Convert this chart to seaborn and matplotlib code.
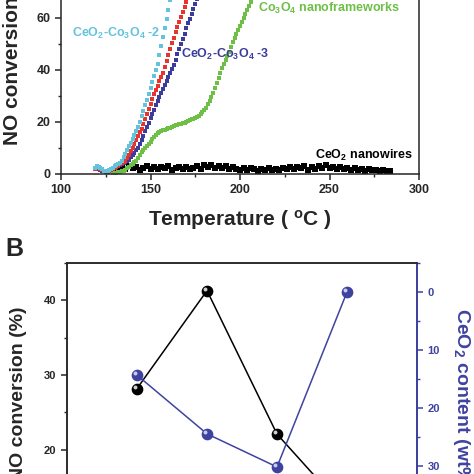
import numpy as np
import pandas as pd
import matplotlib
matplotlib.use("Agg")
import matplotlib.pyplot as plt
import matplotlib.transforms as mtransforms
from matplotlib.ticker import MultipleLocator
import seaborn as sns

# ---- panel A: NO conversion vs temperature ----
t_lb = list(range(119, 164))
conv_lb = [2.4, 3.0, 2.6, 2.2, 1.8, 1.3, 1.0, 1.2, 1.6, 2.0, 2.4, 2.9, 3.4, 3.9, 4.4,
           5.0, 6.4, 7.8, 9.3, 10.7, 12.1, 13.5, 15.0, 16.5, 18.0, 20.1, 22.2, 24.3,
           26.4, 28.5, 30.8, 33.1, 35.4, 37.7, 40.0, 42.5, 45.8, 49.2, 52.6, 56.0,
           59.6, 63.2, 66.8, 70.4, 74.0]

t_red = list(range(119, 173))
conv_red = [2.0, 2.6, 2.2, 1.8, 1.4, 1.1, 0.9, 1.0, 1.3, 1.6, 2.0, 2.4, 2.8, 3.2, 3.7,
            4.2, 4.6, 5.0, 6.2, 7.5, 8.8, 10.0, 11.5, 13.0, 14.5, 16.0, 17.5, 19.3,
            21.2, 23.1, 25.0, 27.0, 28.9, 30.6, 32.3, 34.0, 35.6, 37.3, 39.0, 41.0,
            43.3, 45.6, 47.9, 50.2, 52.5, 54.8, 56.7, 58.6, 60.5, 62.4, 64.3, 66.2,
            68.1, 70.0]

t_navy = list(range(119, 179))
conv_navy = [1.8, 2.4, 2.0, 1.6, 1.2, 1.0, 0.8, 0.9, 1.1, 1.4, 1.8, 2.2, 2.6, 3.0, 3.4,
             3.8, 4.2, 4.6, 4.9, 5.5, 6.4, 7.3, 8.2, 9.1, 10.0, 11.6, 13.2, 14.8, 16.4,
             18.0, 19.7, 21.4, 23.1, 24.8, 26.5, 28.2, 29.7, 31.2, 32.7, 34.2, 35.7,
             37.2, 38.7, 40.2, 42.0, 44.0, 46.0, 48.0, 50.0, 52.0, 54.0, 56.0, 57.9,
             59.8, 61.7, 63.6, 65.5, 67.4, 69.3, 71.2]

t_green = list(range(129, 210))
conv_green = [0.0, 0.2, 0.4, 0.6, 0.8, 1.0, 1.3, 1.7, 2.2, 2.8, 3.4, 4.0, 4.6, 5.1, 6.2,
              7.3, 8.3, 9.1, 9.9, 10.7, 11.5, 12.4, 13.3, 14.2, 15.1, 15.7, 16.1, 16.5,
              16.8, 17.1, 17.4, 17.6, 17.8, 18.1, 18.4, 18.7, 18.9, 19.1, 19.3, 19.5,
              19.8, 20.0, 20.3, 20.6, 21.0, 21.3, 21.7, 22.0, 22.5, 23.1, 23.8, 24.6,
              25.5, 26.8, 28.2, 29.6, 31.0, 33.0, 35.0, 37.0, 39.0, 40.6, 42.2, 43.8,
              45.4, 47.0, 48.8, 50.6, 52.4, 54.0, 55.5, 57.0, 58.5, 60.0, 61.5, 63.0,
              64.6, 66.2, 67.8, 69.4, 71.0]

t_black = list(range(130, 286, 2))
conv_black = [1.0, 1.8, 2.6, 2.0, 3.0, 2.2, 2.8, 1.6, 2.4, 3.0, 2.0, 2.6, 1.8, 2.8,
              2.2, 3.0, 1.6, 2.4, 2.8, 2.0, 2.6, 1.8, 2.4, 3.2, 2.0, 3.4, 2.6, 3.6,
              2.2, 3.0, 2.4, 3.2, 1.8, 2.6, 2.0, 1.4, 2.2, 1.6, 2.4, 1.8, 1.2, 2.0,
              1.6, 2.2, 1.4, 2.0, 1.6, 2.4, 1.8, 2.6, 2.0, 2.8, 2.2, 3.0, 1.6, 2.6,
              2.0, 3.2, 2.4, 3.4, 2.2, 2.8, 1.8, 2.6, 2.0, 2.4, 1.4, 2.2, 1.6, 2.0,
              1.2, 1.8, 1.4, 1.6, 1.0, 1.4, 1.2, 1.0]

# ---- panel B: conversion and CeO2 content per sample ----
sample_pos = [1, 2, 3, 4]
conv_b = [28.2, 41.3, 22.1, 11.7]
ceo2_content = [14.3, 24.4, 30.1, 0.0]

c_lb = "#63c3dd"
c_red = "#e8342f"
c_navy = "#3b3c9c"
c_green = "#6dbf45"
c_blue_b = "#3f43a0"

sns.set_style("ticks")
plt.rcParams["font.family"] = ["Liberation Sans", "DejaVu Sans"]
plt.rcParams["font.weight"] = "bold"
plt.rcParams["mathtext.fontset"] = "custom"
plt.rcParams["mathtext.rm"] = "Liberation Sans:bold"
plt.rcParams["mathtext.it"] = "Liberation Sans:bold"
plt.rcParams["mathtext.bf"] = "Liberation Sans:bold"
plt.rcParams["axes.linewidth"] = 1.1

fig = plt.figure(figsize=(4.74, 4.74), dpi=100)
W = 474.0

# panel A axes (top part is outside the picture)
axA = fig.add_axes([61 / W, 1 - 174 / W, 358 / W, 260 / W])
series = [
    (t_black, conv_black, "black", 17),
    (t_green, conv_green, c_green, 12),
    (t_navy, conv_navy, c_navy, 12),
    (t_red, conv_red, c_red, 12),
    (t_lb, conv_lb, c_lb, 12),
]
for tt, cc, col, sz in series:
    df = pd.DataFrame({"T": tt, "conv": cc})
    sns.scatterplot(data=df, x="T", y="conv", ax=axA, marker="s", s=sz,
                    color=col, linewidth=0, clip_on=True)

axA.set_xlim(100, 300)
axA.set_ylim(0, 100)
axA.xaxis.set_major_locator(MultipleLocator(50))
axA.xaxis.set_minor_locator(MultipleLocator(25))
axA.yaxis.set_major_locator(MultipleLocator(20))
axA.yaxis.set_minor_locator(MultipleLocator(10))
axA.tick_params(which="major", direction="out", length=4, width=1.1, labelsize=9)
axA.tick_params(which="minor", direction="out", length=2.5, width=1.0)
for lab in axA.get_xticklabels() + axA.get_yticklabels():
    lab.set_fontweight("bold")
axA.set_xlabel("Temperature ( $^{\\mathrm{o}}$C )", fontsize=15, fontweight="bold")
axA.xaxis.set_label_coords(0.5, -0.13)
axA.set_ylabel("NO conversion (%)", fontsize=15, fontweight="bold")
axA.yaxis.set_label_coords(-0.108, 0.47)

lab_fs = 9
axA.text(106, 54.2, "CeO$_2$-Co$_3$O$_4$ -2", color=c_lb, fontsize=lab_fs,
         fontweight="bold", va="center")
axA.text(167, 45.8, "CeO$_2$-Co$_3$O$_4$ -3", color=c_navy, fontsize=lab_fs,
         fontweight="bold", va="center")
axA.text(210, 63.8, "Co$_3$O$_4$ nanoframeworks", color=c_green, fontsize=lab_fs,
         fontweight="bold", va="center")
axA.text(242, 7.3, "CeO$_2$ nanowires", color="black", fontsize=lab_fs,
         fontweight="bold", va="center")

# panel B axes (bottom part is outside the picture)
axB = fig.add_axes([67 / W, 1 - 524.5 / W, 350 / W, 261.5 / W])
axB2 = axB.twinx()

sns.lineplot(x=sample_pos, y=conv_b, ax=axB, color="black", linewidth=1.1)
sns.lineplot(x=sample_pos, y=ceo2_content, ax=axB2, color=c_blue_b, linewidth=1.1)

hl = mtransforms.offset_copy(axB.transData, fig=fig, x=-1.2, y=1.2, units="points")
hl2 = mtransforms.offset_copy(axB2.transData, fig=fig, x=-1.2, y=1.2, units="points")
axB.scatter(sample_pos, conv_b, s=55, color="black", zorder=3)
axB.scatter(sample_pos, conv_b, s=8, color="#cfcfcf", linewidth=0, zorder=4, transform=hl)
axB2.scatter(sample_pos, ceo2_content, s=55, color=c_blue_b, zorder=3)
axB2.scatter(sample_pos, ceo2_content, s=8, color="#c9cbf0", linewidth=0, zorder=4,
             transform=hl2)

axB.set_xlim(0, 5)
axB.set_ylim(10, 45)
axB2.set_ylim(40, -5)
axB.yaxis.set_major_locator(MultipleLocator(10))
axB.yaxis.set_minor_locator(MultipleLocator(5))
axB2.yaxis.set_major_locator(MultipleLocator(10))
axB2.yaxis.set_minor_locator(MultipleLocator(5))
axB.tick_params(which="major", direction="out", length=4, width=1.1, labelsize=8)
axB.tick_params(which="minor", direction="out", length=2.5, width=1.0)
axB2.tick_params(which="major", direction="out", length=4, width=1.1, labelsize=8,
                 colors=c_blue_b)
axB2.tick_params(which="minor", direction="out", length=2.5, width=1.0, colors=c_blue_b)
axB2.spines["right"].set_color(c_blue_b)
axB2.spines["right"].set_linewidth(1.4)
for lab in axB.get_yticklabels() + axB2.get_yticklabels():
    lab.set_fontweight("bold")
axB.set_ylabel("NO conversion (%)", fontsize=14, fontweight="bold")
axB.yaxis.set_label_coords(-0.114, 0.5)
axB2.set_ylabel("CeO$_2$ content (wt%)", fontsize=14, fontweight="bold",
                color=c_blue_b, rotation=270, va="center")
axB2.yaxis.set_label_coords(1.126, 0.48)

fig.text(5 / W, 1 - 249 / W, "B", fontsize=18, fontweight="bold", va="center", ha="left")

fig.savefig("out.png", dpi=100)
